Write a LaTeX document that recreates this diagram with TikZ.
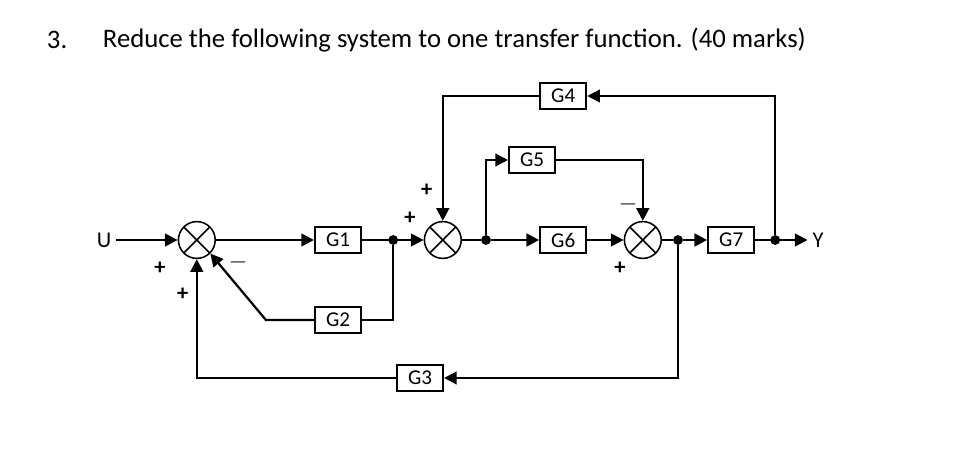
\documentclass[tikz,border=0pt]{standalone}
\usepackage{fontspec}
\setmainfont{Carlito}
\usetikzlibrary{calc,positioning,arrows.meta}

\tikzset{
    blk/.style={draw,line width=1.5pt,minimum width=1.15cm,minimum height=0.65cm,inner sep=0pt,font=\fontsize{15}{15}\selectfont},
    sum/.style={draw,line width=1.1pt,circle,minimum size=0.92cm,inner sep=0pt,path picture={
        \draw[line width=1.1pt] (path picture bounding box.north west) -- (path picture bounding box.south east)
                     (path picture bounding box.north east) -- (path picture bounding box.south west);}},
    dot/.style={circle,fill,inner sep=0pt,minimum size=7pt},
    sig/.style={font=\bfseries\fontsize{16}{16}\selectfont},
    wire/.style={line width=1.6pt},
    line/.style={wire,-{Triangle[length=9pt,width=9pt]}}
}

\begin{document}
\begin{tikzpicture}[x=1cm,y=1cm]
    \useasboundingbox (0,0) rectangle (24.15,11.6);
    % title
    \node[anchor=west,font=\fontsize{19}{19}\selectfont] (num) at (1.05,10.6) {3.};
    \node[anchor=west,font=\fontsize{19}{19}\selectfont] (title) at (2.45,10.6) {Reduce the following system to one transfer function. (40 marks)};

    % forward path
    \node (u) at (2.6,5.6) {\fontsize{16}{16}\selectfont U};
    \node[sum] (s1) at (4.92,5.6) {};
    \node[blk] (g1) at (8.45,5.6) {G1};
    \node[sum] (s2) at (11.07,5.6) {};
    \node[dot] (j1) at (9.83,5.6) {};
    \node[dot] (j2) at (12.15,5.6) {};
    \node[blk] (g6) at (14.08,5.6) {G6};
    \node[sum] (s3) at (16.07,5.6) {};
    \node[dot] (j3) at (16.95,5.6) {};
    \node[blk] (g7) at (18.28,5.6) {G7};
    \node[dot] (j4) at (19.38,5.6) {};
    \node (y) at (20.45,5.6) {\fontsize{16}{16}\selectfont Y};

    % other blocks
    \node[blk] (g4) at (14.08,9.2) {G4};
    \node[blk] (g5) at (13.3,7.6) {G5};
    \node[blk] (g2) at (8.45,3.6) {G2};
    \node[blk] (g3) at (10.5,2.15) {G3};

    \draw[line] (u) -- (s1);
    \draw[line] (s1) -- (g1);
    \draw[line] (g1) -- (s2);
    \draw[wire] (s2) -- (j2);
    \draw[line] (j2) -- (g6);
    \draw[line] (g6) -- (s3);
    \draw[wire] (s3) -- (j3);
    \draw[line] (j3) -- (g7);
    \draw[line] (g7) -- (y.west);

    % loops
    \draw[wire] (j1) |- (g2);
    \draw[line] (g2.west) -- ++(-1.2,0) -- (s1.south east);
    \draw[line] (j3) |- (g3);
    \draw[line] (g3.west) -| (s1.south);
    \draw[line] (j4) |- (g4);
    \draw[line] (g4.west) -| (s2.north);
    \draw[line] (j2) |- (g5);
    \draw[line] (g5.east) -| (s3.north);

    % signs
    \node[sig] (p1) at (4.0,4.9) {+};
    \node[sig] (p2) at (4.57,4.25) {+};
    \node[sig] (m1) at (5.95,5.05) {$-$};
    \node[sig] (p3) at (10.67,6.85) {+};
    \node[sig] (p4) at (10.25,6.15) {+};
    \node[sig] (m2) at (15.7,6.5) {$-$};
    \node[sig] (p5) at (15.5,4.9) {+};
\end{tikzpicture}
\end{document}
